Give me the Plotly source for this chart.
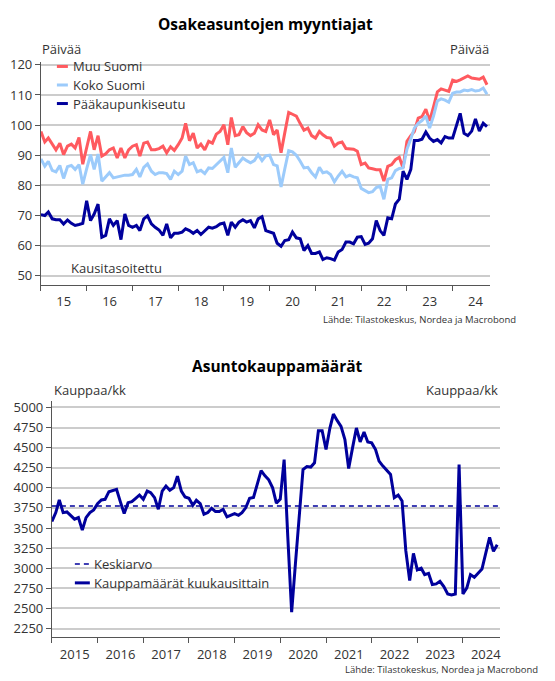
import plotly.graph_objects as go
import pandas as pd

# ---------------- data ----------------
months = pd.date_range("2015-01-01", periods=118, freq="MS")

series_names_top = ["Muu Suomi", "Koko Suomi", "Pääkaupunkiseutu"]

muu_suomi = [
    97.9, 94.4, 95.7, 93.5, 91.8, 94.0, 90.2, 93.0, 93.7, 92.4, 95.9, 87.0,
    92.5, 97.9, 91.8, 96.5, 89.7, 90.5, 91.8, 92.4, 89.1, 92.4, 89.1, 91.8,
    93.0, 93.5, 89.7, 94.0, 94.4, 91.8, 91.8, 92.2, 93.0, 90.8, 92.8, 91.6,
    93.5, 95.7, 100.6, 94.8, 97.3, 92.4, 93.7, 91.8, 94.6, 94.0, 97.0, 97.9,
    100.1, 93.5, 102.5, 96.5, 96.8, 99.5, 97.5, 96.5, 97.3, 100.1, 98.4, 97.9,
    101.7, 96.8, 98.4, 90.8, 97.5, 104.2, 103.6, 103.0, 100.5, 98.3, 99.0, 96.5,
    95.7, 97.9, 96.8, 95.9, 95.7, 93.0, 94.0, 94.4, 92.2, 92.2, 92.0, 91.3,
    86.9, 87.4, 85.8, 85.5, 85.2, 85.2, 81.4, 86.3, 86.9, 88.5, 89.3, 85.8,
    94.6, 96.5, 97.9, 102.3, 102.8, 105.3, 101.4, 106.0, 111.0, 112.0, 111.6, 111.2,
    114.9, 114.5, 115.0, 115.6, 116.3, 115.6, 115.4, 115.2, 115.9, 113.4,
]

koko_suomi = [
    88.8, 86.4, 88.0, 85.0, 84.5, 86.6, 82.3, 86.2, 86.6, 85.3, 86.9, 80.4,
    85.5, 90.2, 85.3, 90.4, 81.4, 82.8, 84.2, 82.5, 82.8, 83.0, 83.4, 83.4,
    83.6, 85.3, 82.8, 86.0, 87.1, 84.7, 83.6, 84.2, 84.2, 83.9, 82.0, 84.7,
    83.6, 84.7, 89.7, 86.9, 87.5, 84.5, 85.0, 83.9, 85.8, 85.6, 86.9, 88.0,
    89.3, 84.2, 92.4, 86.0, 87.5, 89.1, 88.2, 87.5, 88.2, 90.2, 88.2, 89.8,
    90.0, 86.9, 86.5, 79.5, 85.5, 91.5, 91.1, 90.0, 88.0, 85.8, 86.0, 84.2,
    82.8, 86.0, 84.2, 84.5, 83.6, 81.2, 83.1, 84.7, 82.8, 83.4, 82.8, 82.5,
    79.0, 78.3, 77.6, 77.9, 79.3, 79.8, 75.4, 82.0, 82.5, 84.9, 85.6, 85.8,
    92.0, 95.5, 99.0, 100.6, 101.5, 103.0, 99.0, 103.0, 108.0, 108.7, 108.3, 107.6,
    110.6, 111.0, 111.0, 111.6, 111.4, 111.8, 111.3, 111.5, 112.3, 110.2,
]

paakaupunkiseutu = [
    70.3, 70.0, 71.2, 68.9, 68.6, 68.6, 67.2, 68.5, 67.4, 66.7, 67.0, 67.4,
    74.9, 68.3, 70.5, 73.8, 62.8, 63.4, 68.9, 66.7, 68.3, 62.0, 70.5, 66.7,
    66.1, 66.7, 65.0, 68.9, 69.9, 67.2, 66.1, 65.2, 63.4, 67.2, 62.6, 64.1,
    64.1, 64.5, 65.6, 65.0, 64.1, 65.0, 63.7, 65.0, 66.1, 65.8, 66.3, 67.2,
    67.5, 63.4, 67.8, 66.1, 67.8, 68.6, 67.8, 68.3, 65.9, 68.9, 69.6, 65.0,
    64.5, 64.1, 60.8, 59.8, 61.7, 62.0, 64.5, 62.6, 62.3, 58.4, 60.0, 57.4,
    57.4, 57.9, 55.4, 56.0, 55.7, 55.2, 57.9, 58.7, 61.2, 61.2, 60.6, 62.8,
    63.0, 60.4, 60.8, 62.3, 68.3, 65.0, 63.4, 69.2, 68.9, 73.8, 75.4, 84.7,
    82.0, 85.3, 94.9, 94.9, 95.3, 97.7, 95.7, 94.6, 95.2, 94.1, 96.2, 95.7,
    95.7, 99.9, 103.9, 97.3, 96.5, 98.0, 102.0, 98.0, 100.6, 99.5,
]

series_names_bottom = ["Keskiarvo", "Kauppamäärät kuukausittain"]

kauppamaarat = [
    3581, 3692, 3849, 3692, 3700, 3651, 3610, 3630, 3474, 3630, 3692, 3725,
    3804, 3849, 3857, 3952, 3965, 3981, 3828, 3680, 3816, 3828, 3870, 3911,
    3857, 3960, 3940, 3878, 3733, 3960, 4022, 3969, 4002, 4146, 3960, 3886,
    3870, 3783, 3845, 3804, 3672, 3692, 3746, 3705, 3705, 3733, 3639, 3663,
    3680, 3659, 3692, 3754, 3870, 3880, 4050, 4215, 4150, 4100, 4000, 3810,
    3860, 4352, 3400, 2455, 3050, 3640, 4229, 4265, 4258, 4311, 4711, 4711,
    4476, 4744, 4917, 4835, 4765, 4600, 4241, 4497, 4744, 4571, 4695, 4571,
    4559, 4476, 4332, 4270, 4216, 4167, 3878, 3911, 3837, 3218, 2847, 3185,
    2979, 3000, 2921, 2937, 2797, 2805, 2838, 2772, 2681, 2669, 2680, 4290,
    2681, 2756, 2921, 2888, 2937, 2990, 3185, 3383, 3210, 3292,
]
keskiarvo = 3775

top_yticks = [50, 60, 70, 80, 90, 100, 110, 120]
bottom_yticks = [2250, 2500, 2750, 3000, 3250, 3500, 3750, 4000, 4250, 4500, 4750, 5000]

# ---------------- styling ----------------
W, H = 555, 681
RED = "#ff5a5f"
LIGHT = "#9ccbfb"
DARK = "#00009c"
GRID = "#cccccc"
AXIS = "#555555"
TXT = "#333333"
FONT = "Open Sans"


def px(x):
    return x / W


def py(y):
    return 1 - y / H


fig = go.Figure()

for name, vals, col in zip(series_names_top, [muu_suomi, koko_suomi, paakaupunkiseutu], [RED, LIGHT, DARK]):
    fig.add_trace(go.Scatter(x=months, y=vals, name=name, mode="lines",
                             line=dict(color=col, width=3), xaxis="x", yaxis="y",
                             showlegend=False))

fig.add_trace(go.Scatter(x=months, y=kauppamaarat, name=series_names_bottom[1], mode="lines",
                         line=dict(color=DARK, width=3), xaxis="x2", yaxis="y3",
                         showlegend=False))

tickfont = dict(family=FONT, size=13, color=TXT)

common_y = dict(showline=True, linecolor=AXIS, linewidth=1, ticks="outside", ticklen=5,
                tickcolor=AXIS, tickfont=tickfont, zeroline=False)
common_x = dict(type="date", showline=True, linecolor=AXIS, linewidth=1, ticks="outside",
                ticklen=5, tickcolor=AXIS, tickfont=tickfont, dtick="M12", tick0="2015-01-01",
                ticklabelmode="period", showgrid=False, zeroline=False)

top_range = [47.1, 121.1]
bot_range = [2140, 5074]

fig.update_layout(
    width=W, height=H, margin=dict(l=0, r=0, t=0, b=0),
    paper_bgcolor="white", plot_bgcolor="white",
    xaxis=dict(domain=[px(41), px(491)], anchor="y", range=["2015-01-01", "2024-10-26"],
               tickformat="%y", **common_x),
    yaxis=dict(domain=[py(281), py(56)], anchor="x", range=top_range, tickvals=top_yticks,
               showgrid=True, gridcolor=GRID, gridwidth=1.5, side="left", **common_y),
    yaxis2=dict(anchor="x", overlaying="y", side="right", range=top_range, tickvals=top_yticks,
                showgrid=False, **common_y),
    xaxis2=dict(domain=[px(52), px(501)], anchor="y3", range=["2015-01-01", "2024-10-24"],
                tickformat="%Y", **common_x),
    yaxis3=dict(domain=[py(637), py(399)], anchor="x2", range=bot_range, tickvals=bottom_yticks,
                showgrid=True, gridcolor=GRID, gridwidth=1.5, side="left", **common_y),
    yaxis4=dict(anchor="x2", overlaying="y3", side="right", range=bot_range, tickvals=bottom_yticks,
                showgrid=False, **common_y),
)

# mean line
shapes = [dict(type="line", xref="x2 domain", x0=0, x1=1, yref="y3", y0=keskiarvo, y1=keskiarvo,
               line=dict(color=DARK, width=1.5, dash="5px,4px"))]

annotations = []


def text(x, y, s, size=13, anchor="left", bold=False, color=TXT):
    annotations.append(dict(xref="paper", yref="paper", x=px(x), y=py(y), text=(f"<b>{s}</b>" if bold else s),
                            showarrow=False, xanchor=anchor, yanchor="middle",
                            font=dict(family=FONT, size=size, color=color)))


# titles
text(266, 18, "Osakeasuntojen myyntiajat", size=15.5, anchor="center", bold=True, color="#000000")
text(278, 363, "Asuntokauppamäärät", size=15.5, anchor="center", bold=True, color="#000000")

# unit labels
text(40, 43, "Päivää", anchor="left")
text(492, 43, "Päivää", anchor="right")
text(52, 387, "Kauppaa/kk", anchor="left")
text(501, 387, "Kauppaa/kk", anchor="right")

# top legend
for i, (name, col) in enumerate(zip(series_names_top, [RED, LIGHT, DARK])):
    yy = 61 + i * 18.7
    shapes.append(dict(type="line", xref="paper", yref="paper", x0=px(57), x1=px(68), y0=py(yy), y1=py(yy),
                       line=dict(color=col, width=3)))
    text(71, yy, name)

text(69, 264, "Kausitasoitettu")

# bottom legend
shapes.append(dict(type="line", xref="paper", yref="paper", x0=px(75), x1=px(90), y0=py(563), y1=py(563),
                   line=dict(color=DARK, width=1.5, dash="5px,4px")))
text(92, 563, series_names_bottom[0])
shapes.append(dict(type="line", xref="paper", yref="paper", x0=px(75), x1=px(90), y0=py(582), y1=py(582),
                   line=dict(color=DARK, width=3)))
text(92, 582, series_names_bottom[1])

# sources
text(519, 316, "Lähde: Tilastokeskus, Nordea ja Macrobond", size=9.5, anchor="right")
text(541, 669, "Lähde: Tilastokeskus, Nordea ja Macrobond", size=9.5, anchor="right")

fig.update_layout(shapes=shapes, annotations=annotations)

fig.write_html("out.html")
